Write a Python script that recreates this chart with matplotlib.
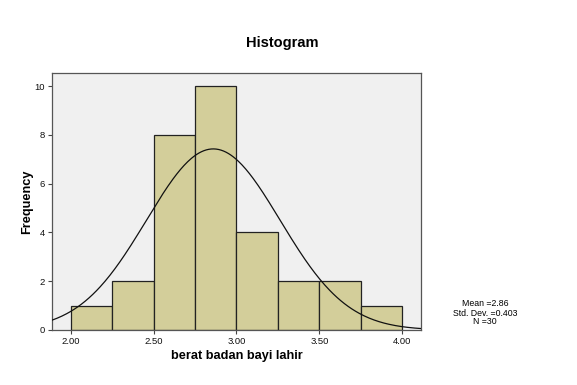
import numpy as np
import matplotlib.pyplot as plt

plt.rcParams['font.family'] = ['Liberation Sans', 'DejaVu Sans']

# histogram data (SPSS output)
bin_edges = [2.00, 2.25, 2.50, 2.75, 3.00, 3.25, 3.50, 3.75, 4.00]
counts = [1, 2, 8, 10, 4, 2, 2, 1]
mean = 2.86
std_dev = 0.403
n = 30

xticks = [2.00, 2.50, 3.00, 3.50, 4.00]
xtick_labels = ["2.00", "2.50", "3.00", "3.50", "4.00"]
yticks = [0, 2, 4, 6, 8, 10]

fig = plt.figure(figsize=(5.77, 3.85), dpi=100, facecolor='white')
ax = fig.add_axes([0.0901, 0.1429, 0.6395, 0.6683])
ax.set_facecolor('#F0F0F0')

widths = np.diff(bin_edges)
ax.bar(bin_edges[:-1], counts, width=widths, align='edge',
       color='#D3CE9A', edgecolor='#222222', linewidth=0.9, zorder=2)

# fitted normal curve scaled to counts
xs = np.linspace(1.887, 4.113, 300)
bw = widths[0]
ys = n * bw / (std_dev * np.sqrt(2 * np.pi)) * np.exp(-0.5 * ((xs - mean) / std_dev) ** 2)
ax.plot(xs, ys, color='#111111', linewidth=0.9, zorder=3)

ax.set_xlim(1.887, 4.113)
ax.set_ylim(0, 10.55)
ax.set_xticks(xticks)
ax.set_xticklabels(xtick_labels)
ax.set_yticks(yticks)
ax.tick_params(labelsize=6.8, length=3, width=0.8, color='#444444', labelcolor='#111111', pad=2)
for s in ax.spines.values():
    s.set_color('#555555')
    s.set_linewidth(0.9)

ax.set_xlabel('berat badan bayi lahir', fontsize=9.2, weight='bold', labelpad=3)
ax.set_ylabel('Frequency', fontsize=9.2, weight='bold', labelpad=1)

fig.text(282 / 577, 1 - 43 / 385, 'Histogram', fontsize=10.5, weight='bold',
         ha='center', va='center')

fig.text(485 / 577, 1 - 313 / 385,
         f'Mean ={mean:.2f}\nStd. Dev. ={std_dev:.3f}\nN ={n}',
         fontsize=6.3, ha='center', va='center', linespacing=1.0)

plt.savefig('out.png', dpi=100)
